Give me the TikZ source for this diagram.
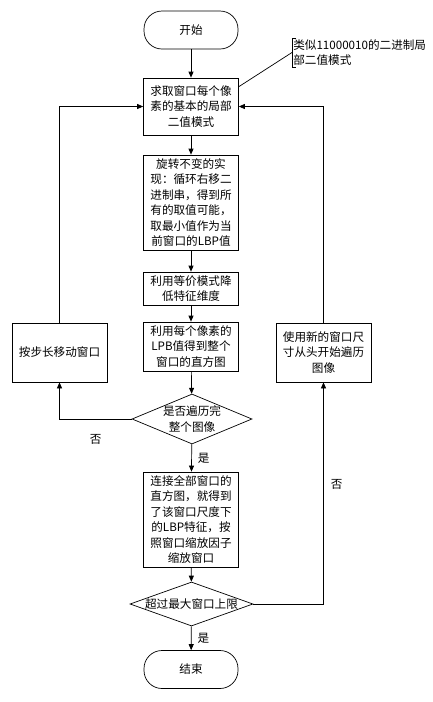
\documentclass[tikz,border=0pt]{standalone}
\usepackage{fontspec}
\newfontfamily\cjk{Noto Sans CJK SC}
\usetikzlibrary{arrows.meta,shapes.geometric}
\tikzset{
  proc/.style={draw,line width=0.7pt,minimum width=95pt,inner sep=1pt,align=center,font=\cjk\fontsize{11.6}{15.5}\selectfont},
  term/.style={draw,line width=0.7pt,rounded corners=18pt,minimum width=94pt,minimum height=38pt,font=\cjk\fontsize{11.6}{15.5}\selectfont},
  dec/.style={draw,diamond,line width=0.7pt,inner sep=0pt},
  lbl/.style={font=\cjk\fontsize{11.6}{15.5}\selectfont,inner sep=1pt},
}

\begin{document}
\begin{tikzpicture}[x=1pt,y=-1pt,>={Triangle[length=6pt,width=5pt]},line width=0.7pt]
  \useasboundingbox (0,0) rectangle (433,702);
  \node[term] (start) at (191,30) {开始};
  \node[proc,minimum height=57pt] (b1) at (191,106.5) {求取窗口每个像\\素的基本的局部\\二值模式};
  \node[proc,minimum height=95pt] (b2) at (191,202.5) {旋转不变的实\\现：循环右移二\\进制串，得到所\\有的取值可能，\\取最小值作为当\\前窗口的LBP值};
  \node[proc,minimum height=33pt] (b3) at (191,288.5) {利用等价模式降\\低特征维度};
  \node[proc,minimum height=49pt] (b4) at (191,346.5) {利用每个像素的\\LPB值得到整个\\窗口的直方图};
  \node[dec,minimum width=120pt,minimum height=50pt] (d1) at (192,419) {};
  \node[lbl,align=center] (d1t) at (d1) {是否遍历完\\整个图像};
  \node[proc,minimum height=95pt] (b5) at (191,519.5) {连接全部窗口的\\直方图，就得到\\了该窗口尺度下\\的LBP特征，按\\照窗口缩放因子\\缩放窗口};
  \node[dec,minimum width=123pt,minimum height=44pt] (d2) at (191.5,604) {};
  \node[lbl] (d2t) at (d2) {超过最大窗口上限};
  \node[term] (stop) at (191,669.5) {结束};
  \node[proc,minimum height=59pt] (move) at (59.5,352.5) {按步长移动窗口};
  \node[proc,minimum height=59pt] (reset) at (323.5,352.5) {使用新的窗口尺\\寸从头开始遍历\\图像};
  \node[lbl,anchor=north west,align=left] (note) at (292,38) {类似11000010的二进制局\\部二值模式};

  \draw ([xshift=4pt]note.north west) -- (note.north west) -- (note.south west) -- ([xshift=4pt]note.south west);
  \draw (note.west) -- ([yshift=-9pt]b1.north east);

  \draw[->] (start) -- (b1);
  \draw[->] (b1) -- (b2);
  \draw[->] (b2) -- (b3);
  \draw[->] (b3) -- (b4);
  \draw[->] (b4) -- (d1);
  \draw[->] (d1) -- node[lbl,right=5pt]{是} (b5);
  \draw[->] (b5) -- (d2);
  \draw[->] (d2) -- node[lbl,right=5pt]{是} (stop);
  \draw[->] (d1.west) -| node[lbl,pos=0.25,below=14pt]{否} (move.south);
  \draw[->] (move.north) |- (b1.west);
  \draw[->] (d2.east) -| node[lbl,pos=0.77,right=6pt]{否} (reset.south);
  \draw[->] (reset.north) |- (b1.east);
\end{tikzpicture}
\end{document}
